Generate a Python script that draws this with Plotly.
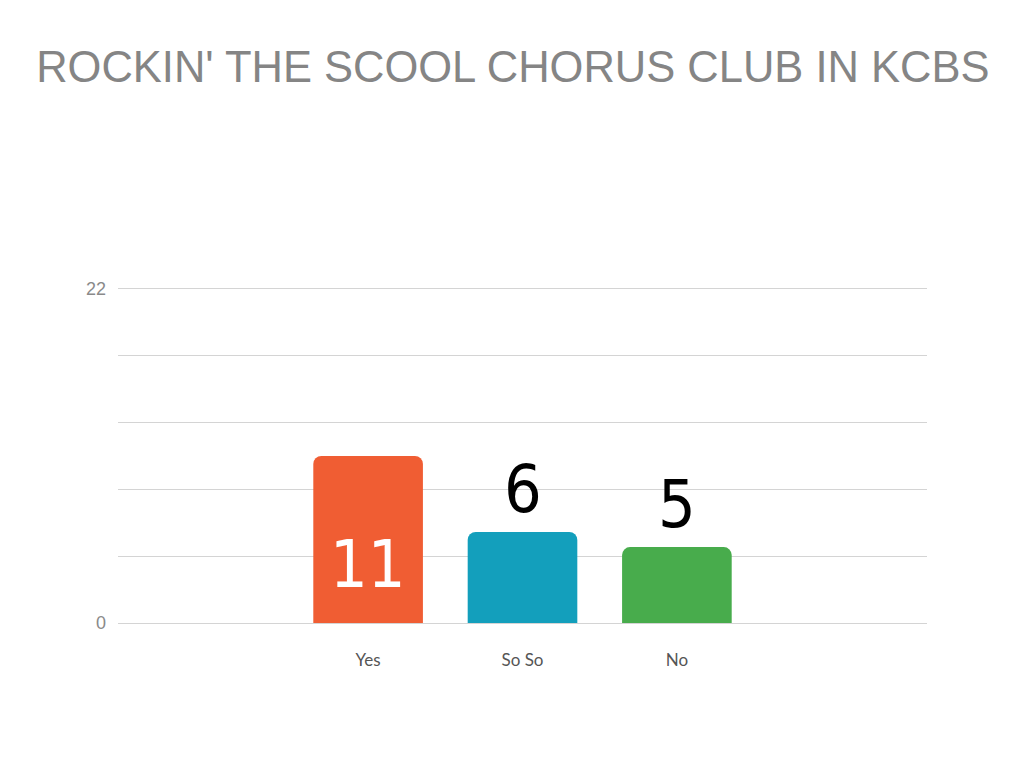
import plotly.graph_objects as go

# survey answers
answers = ['Yes', 'So So', 'No']
counts = [11, 6, 5]
bar_colors = ['#F05D33', '#139FBC', '#48AC4C']
y_max = 22

fig = go.Figure()

fig.add_trace(go.Bar(
    x=answers, y=counts,
    marker=dict(color=bar_colors, cornerradius=8, line=dict(width=0)),
    width=0.71,
    hoverinfo='x+y',
))

# value labels: the tall bar gets it inside near the base, the others above
label_font = dict(family='DejaVu Sans Condensed, DejaVu Sans', size=66)
for a, c in zip(answers, counts):
    if c > y_max / 2 - 1:
        fig.add_annotation(x=a, y=0, text=str(c), showarrow=False,
                           yanchor='bottom', yshift=18,
                           font=dict(color='white', **label_font))
    else:
        fig.add_annotation(x=a, y=c, text=str(c), showarrow=False,
                           yanchor='bottom', yshift=2,
                           font=dict(color='black', **label_font))

# the page puts the plot 8px in from the corner, so margins are set a bit smaller
fig.update_layout(
    width=1024, height=768,
    margin=dict(l=110, r=105, t=281, b=153),
    paper_bgcolor='white', plot_bgcolor='white',
    showlegend=False,
    title=dict(text="ROCKIN' THE SCOOL CHORUS CLUB IN KCBS",
               xref='container', x=0.493, xanchor='center',
               yref='container', y=0.924, yanchor='middle',
               font=dict(family='Liberation Sans', size=43.5, color='#858585')),
)
fig.update_xaxes(
    range=[-1.62, 3.62], showgrid=False, zeroline=False,
    showline=True, mirror=True, linecolor='#d4d4d4', linewidth=1,
    ticks='', ticklabelstandoff=22,
    tickfont=dict(family='Lato', size=17, color='#555555'),
)
fig.update_yaxes(
    range=[0, y_max], tickvals=[0, 4.4, 8.8, 13.2, 17.6, 22],
    ticktext=['0', '', '', '', '', '22'],
    showgrid=True, gridcolor='#d4d4d4', gridwidth=1,
    zeroline=False, showline=False, ticks='', ticklabelstandoff=11,
    tickfont=dict(family='Liberation Sans', size=18, color='#8a8a8a'),
)

fig.write_html('out.html')
